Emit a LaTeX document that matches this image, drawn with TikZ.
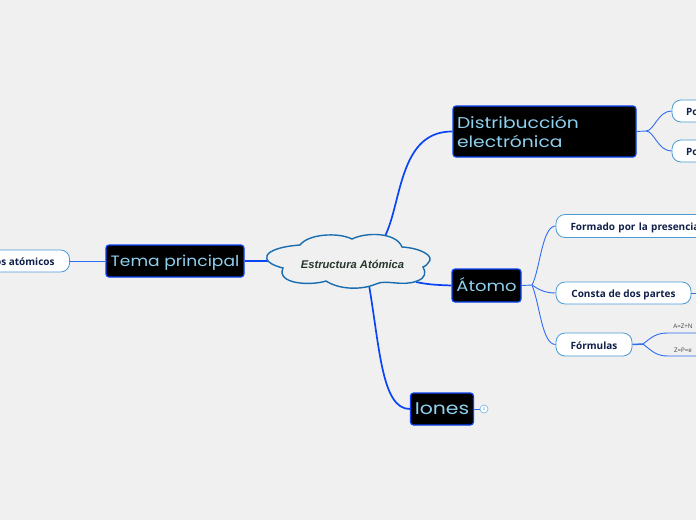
\documentclass[tikz,border=0pt]{standalone}
\usepackage{fontspec}
\usepackage{xcolor}
\usetikzlibrary{positioning,calc}
\setmainfont{Open Sans}
\newfontfamily\topicfont[FakeStretch=1.2]{Poppins}
\newfontfamily\temafont[FakeStretch=1.14]{Poppins}
\newfontfamily\cloudfont{Liberation Sans}
\definecolor{pagebg}{HTML}{f0f0f0}
\definecolor{mainline}{HTML}{0a45f5}
\definecolor{subline}{HTML}{2f6df0}
\definecolor{subedge}{HTML}{4a9ad4}
\definecolor{cloudedge}{HTML}{1a6cb0}
\definecolor{topictext}{HTML}{8fd0ee}
\definecolor{subtext}{HTML}{10204a}
\definecolor{cloudtext}{HTML}{26382c}
\tikzset{
  topic/.style={draw=mainline, line width=1.2pt, fill=black, rounded corners=3pt, text=topictext, inner sep=0pt, text height=11pt, text depth=0pt, font=\topicfont\fontsize{15}{20}\selectfont},
  subtopic/.style={draw=subedge, line width=0.8pt, fill=white, rounded corners=9pt, text=subtext, inner sep=0pt, text height=9pt, text depth=0pt, font=\bfseries\fontsize{10}{12}\selectfont},
  mainlink/.style={draw=mainline, line width=1.7pt},
  sublink/.style={draw=subline, line width=0.9pt},
  tiny/.style={inner sep=0pt, text=black!75, font=\fontsize{6.2}{7}\selectfont}
}

\begin{document}
\begin{tikzpicture}[x=1pt, y=-1pt]
  \useasboundingbox (0,0) rectangle (696,520);
  \clip (0,0) rectangle (696,520);
  \fill[pagebg] (0,0) rectangle (696,520);

  % Main topics
  \node[topic, text height=, text depth=, minimum width=183pt, minimum height=51pt, text width=175pt, align=left, font=\topicfont\fontsize{15.6}{20}\selectfont] (dist) at (544.5,131.5) {Distribucción\\[-1pt]electrónica};
  \node[topic, minimum width=138pt, minimum height=32pt, font=\temafont\fontsize{15}{20}\selectfont] (tema) at (175,261) {Tema principal};
  \node[topic, minimum width=69pt, minimum height=33pt] (atomo) at (486.5,285.5) {Átomo};
  \node[topic, minimum width=63pt, minimum height=32pt, font=\topicfont\fontsize{17}{20}\selectfont] (iones) at (442,409) {Iones};

  % Subtopics, some run past the page edge
  \node[subtopic, minimum width=80pt, minimum height=22pt, text width=52pt, align=left] (po1) at (712,111) {Po};
  \node[subtopic, minimum width=80pt, minimum height=22pt, text width=52pt, align=left] (po2) at (712,151) {Po};
  \node[subtopic, minimum width=190pt, minimum height=23pt, text width=161pt, align=left] (formado) at (651,226) {Formado por la presencia};
  \node[subtopic, minimum width=135pt, minimum height=22pt] (consta) at (623.5,293) {Consta de dos partes};
  \node[subtopic, minimum width=76pt, minimum height=23pt] (formulas) at (594,344.5) {Fórmulas};
  \node[subtopic, minimum height=22pt, inner xsep=15pt, anchor=east] (modelos) at (70,261) {os atómicos};
  \node[draw=subedge!70, line width=0.7pt, fill=white, circle, minimum size=8pt, inner sep=0pt, text=subedge, font=\fontsize{4}{4}\selectfont] (badge) at (484,409) {4};

  % Small labels
  \node[tiny] (afor) at (683,326) {A=Z+N};
  \node[tiny] (zfor) at (683,350) {Z=P=e};

  % Free ends and forks
  \coordinate (cloudtop) at (384,238);
  \coordinate (cloudleft) at (268,261);
  \coordinate (cloudright) at (416,282);
  \coordinate (cloudbottom) at (369,285);
  \coordinate (forkdist) at (646,131);
  \coordinate (forkatomo) at (532,285);
  \coordinate (forkform) at (643,344);
  \coordinate (aend) at (696,333);
  \coordinate (zend) at (696,356);
  \coordinate (cend) at (696,293);

  % Connectors of the main topics
  \draw[mainlink] (cloudtop) .. controls (402,205) and (398,131) .. (dist.west);
  \draw[mainlink] (cloudleft) -- (tema.east);
  \draw[mainlink] (cloudright) .. controls (430,285) and (440,285) .. (atomo.west);
  \draw[mainlink] (cloudbottom) .. controls (380,350) and (382,409) .. (iones.west);

  % Connectors of the subtopics
  \draw[sublink] (dist.east) -- (forkdist);
  \draw[sublink] (forkdist) .. controls (654,131) and (658,111) .. (po1.west);
  \draw[sublink] (forkdist) .. controls (654,131) and (658,151) .. (po2.west);
  \draw[sublink] (atomo.east) -- (forkatomo);
  \draw[sublink] (forkatomo) .. controls (540,270) and (542,226) .. (formado.west);
  \draw[sublink] (forkatomo) .. controls (538,289) and (544,293) .. (consta.west);
  \draw[sublink] (forkatomo) .. controls (540,305) and (542,344.5) .. (formulas.west);
  \draw[sublink] (tema.west) -- (modelos.east);
  \draw[sublink] (consta.east) -- (cend);
  \draw[sublink, line width=1.5pt] (formulas.east) -- (forkform);
  \draw[sublink] (forkform) .. controls (652,337) and (656,333) .. (668,333) -- (aend);
  \draw[sublink] (forkform) .. controls (652,351) and (656,356) .. (668,356) -- (zend);
  \draw[sublink, line width=0.7pt] (iones.east) -- (badge.west);

  % Central cloud
  \draw[cloudedge, line width=1.4pt, fill=pagebg]
    (300,245) .. controls (308,234) and (338,232) .. (352,239)
    .. controls (366,232) and (396,232) .. (402,247)
    .. controls (420,248) and (436,256) .. (428,263)
    .. controls (426,266) and (425,266) .. (423,267)
    .. controls (426,272) and (426,278) .. (417,281)
    .. controls (402,287) and (386,279) .. (376,284)
    .. controls (362,290) and (340,290) .. (326,281)
    .. controls (310,286) and (276,284) .. (283,268)
    .. controls (258,262) and (260,248) .. (300,245) -- cycle;
  \node[inner sep=0pt, text=cloudtext, font=\cloudfont\bfseries\itshape\fontsize{11.2}{12}\selectfont] (centre) at (352.5,264) {Estructura Atómica};
\end{tikzpicture}
\end{document}
